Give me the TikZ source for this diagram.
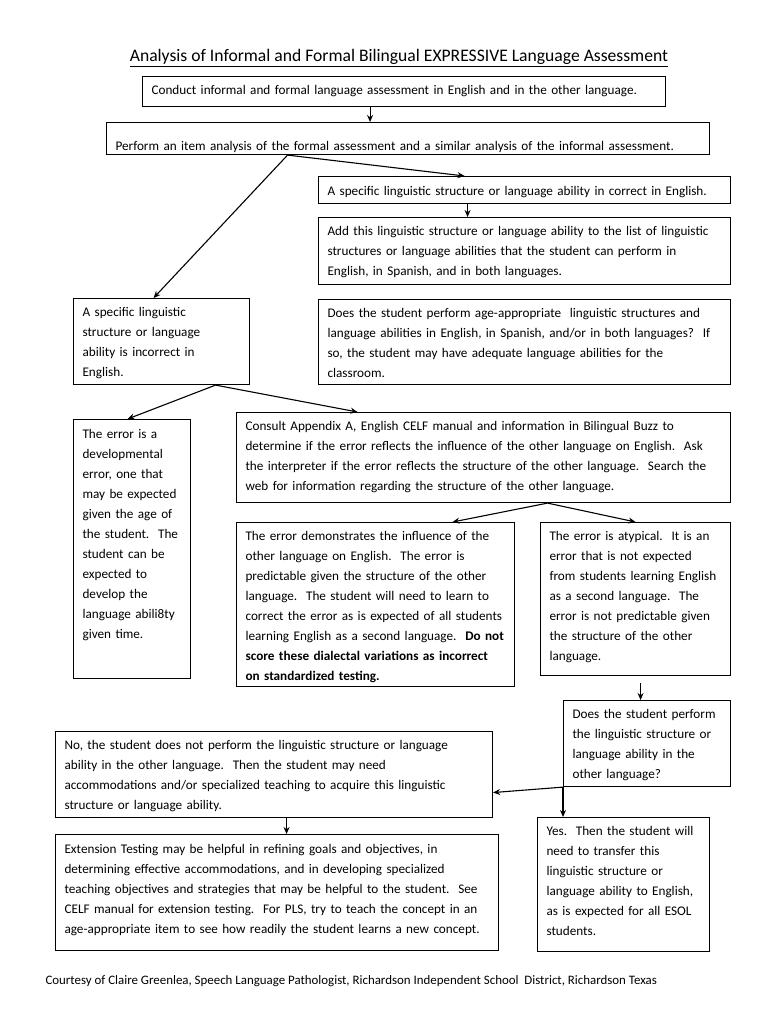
\documentclass[tikz,border=0pt]{standalone}
\usepackage{fontspec}
\setmainfont{Carlito}
\usetikzlibrary{arrows.meta}
\frenchspacing
\hyphenpenalty=10000
\exhyphenpenalty=10000

\newcommand{\bodysize}{\fontsize{13.2pt}{20pt}\selectfont}
\newcommand{\titlesize}{\fontsize{17.6pt}{20pt}\selectfont}
\newcommand{\creditsize}{\fontsize{12.9pt}{15pt}\selectfont}

\tikzset{
  stepbox/.style={draw, line width=1.1pt, anchor=north west, align=left,
    inner xsep=9pt, inner ysep=0pt, font=\bodysize, text height=18pt},
  flow/.style={line width=1.1pt, -{Stealth[length=7pt,width=6pt]}},
}

\begin{document}
\begin{tikzpicture}[x=1pt,y=-1pt]
        \useasboundingbox (0,0) rectangle (768,1024);
        \node[anchor=base, font=\titlesize] (title) at (399,62)
            {\underline{Analysis of Informal and Formal Bilingual EXPRESSIVE Language Assessment}};
        % top of the flow
        \node[stepbox, text width=505pt, text depth=12pt] (conduct) at (142,76)
            {Conduct informal and formal language assessment in English and in the other language.};
        \node[stepbox, text width=585pt, text height=28pt, text depth=4pt] (perform) at (106,122)
            {Perform an item analysis of the formal assessment and a similar analysis of the informal assessment.};
        % right column
        \node[stepbox, text width=394pt, text height=19pt, text depth=8pt] (correct) at (318,176)
            {A specific linguistic structure or language ability in correct in English.};
        \node[stepbox, text width=394pt, text depth=49pt] (addlist) at (318,217)
            {Add this linguistic structure or language ability to the list of linguistic\\
             structures or language abilities that the student can perform in\\
             English, in Spanish, and in both languages.};
        \node[stepbox, text width=394pt, text depth=67pt] (ageok) at (318,299)
            {Does the student perform age-appropriate~ linguistic structures and\\
             language abilities in English, in Spanish, and/or in both languages?~ If\\
             so, the student may have adequate language abilities for the\\
             classroom.};
        % left column
        \node[stepbox, text width=158pt, text depth=68pt] (wrong) at (73,298)
            {A specific linguistic\\ structure or language\\ ability is incorrect in\\ English.};
        \node[stepbox, text width=99pt, text height=19pt, text depth=240pt] (devel) at (73,419)
            {The error is a\\ developmental\\ error, one that\\ may be expected\\ given the age of\\
             the student.~ The\\ student can be\\ expected to\\ develop the\\ language abili8ty\\ given time.};
        \node[stepbox, text width=476pt, text depth=72pt] (consult) at (236,412)
            {Consult Appendix A, English CELF manual and information in Bilingual Buzz to\\
             determine if the error reflects the influence of the other language on English.~ Ask\\
             the interpreter if the error reflects the structure of the other language.~ Search the\\
             web for information regarding the structure of the other language.};
        \node[stepbox, text width=260pt, text depth=146pt] (influence) at (236,522)
            {The error demonstrates the influence of the\\
             other language on English.~ The error is\\
             predictable given the structure of the other\\
             language.~ The student will need to learn to\\
             correct the error as is expected of all students\\
             learning English as a second language.~ \textbf{Do not}\\
             \textbf{score these dialectal variations as incorrect}\\
             \textbf{on standardized testing.}};
        \node[stepbox, text width=172pt, text depth=135pt] (atypical) at (540,522)
            {The error is atypical.~ It is an\\ error that is not expected\\ from students learning English\\
             as a second language.~ The\\ error is not predictable given\\ the structure of the other\\ language.};
        % bottom
        \node[stepbox, text width=149pt, text depth=68pt] (otherlang) at (563,700)
            {Does the student perform\\ the linguistic structure or\\ language ability in the\\ other language?};
        \node[stepbox, text width=419pt, text depth=68pt] (nolang) at (55,731)
            {No, the student does not perform the linguistic structure or language\\
             ability in the other language.~ Then the student may need\\
             accommodations and/or specialized teaching to acquire this linguistic\\
             structure or language ability.};
        \node[stepbox, text width=154pt, text depth=116pt] (yeslang) at (537,817)
            {Yes.~ Then the student will\\ need to transfer this\\ linguistic structure or\\
             language ability to English,\\ as is expected for all ESOL\\ students.};
        \node[stepbox, text width=425pt, text height=19pt, text depth=97pt] (extension) at (55,834)
            {Extension Testing may be helpful in refining goals and objectives, in\\
             determining effective accommodations, and in developing specialized\\
             teaching objectives and strategies that may be helpful to the student.~ See\\
             CELF manual for extension testing.~ For PLS, try to teach the concept in an\\
             age-appropriate item to see how readily the student learns a new concept.};
        \node[anchor=base west, font=\creditsize] (credit) at (42,984)
            {Courtesy of Claire Greenlea, Speech Language Pathologist, Richardson Independent School~ District, Richardson Texas};

        % connectors
        \coordinate (p0) at ([xshift=-34pt]conduct.south);
        \draw[flow] (p0) -- (p0 |- perform.north);
        \coordinate (p1) at ([xshift=-120.5pt]perform.south);
        \draw[flow] (p1) -- ([xshift=-60pt]correct.north);
        \draw[flow] (p1) -- ([xshift=-8pt]wrong.north);
        \coordinate (p2) at ([xshift=-57pt]correct.south);
        \draw[flow] (p2) -- (p2 |- addlist.north);
        \coordinate (p3) at ([xshift=54pt]wrong.south);
        \draw[flow] (p3) -- ([xshift=-4.5pt]devel.north);
        \draw[flow] (p3) -- ([xshift=-126pt]consult.north);
        \coordinate (p4) at ([xshift=64pt]consult.south);
        \draw[flow] (p4) -- ([xshift=77pt]influence.north);
        \draw[flow] (p4) -- (atypical.north);
        \coordinate (p5) at ([xshift=-6.5pt,yshift=17pt]otherlang.north);
        \draw[flow] (p5) -- (p5 |- otherlang.north);
        \draw[flow] (otherlang.south west) -- ([yshift=-18pt]nolang.east);
        \draw[flow] (otherlang.south west) -- (otherlang.south west |- yeslang.north);
        \coordinate (p6) at ([xshift=12.5pt]nolang.south);
        \draw[flow] (p6) -- (p6 |- extension.north);
\end{tikzpicture}
\end{document}
